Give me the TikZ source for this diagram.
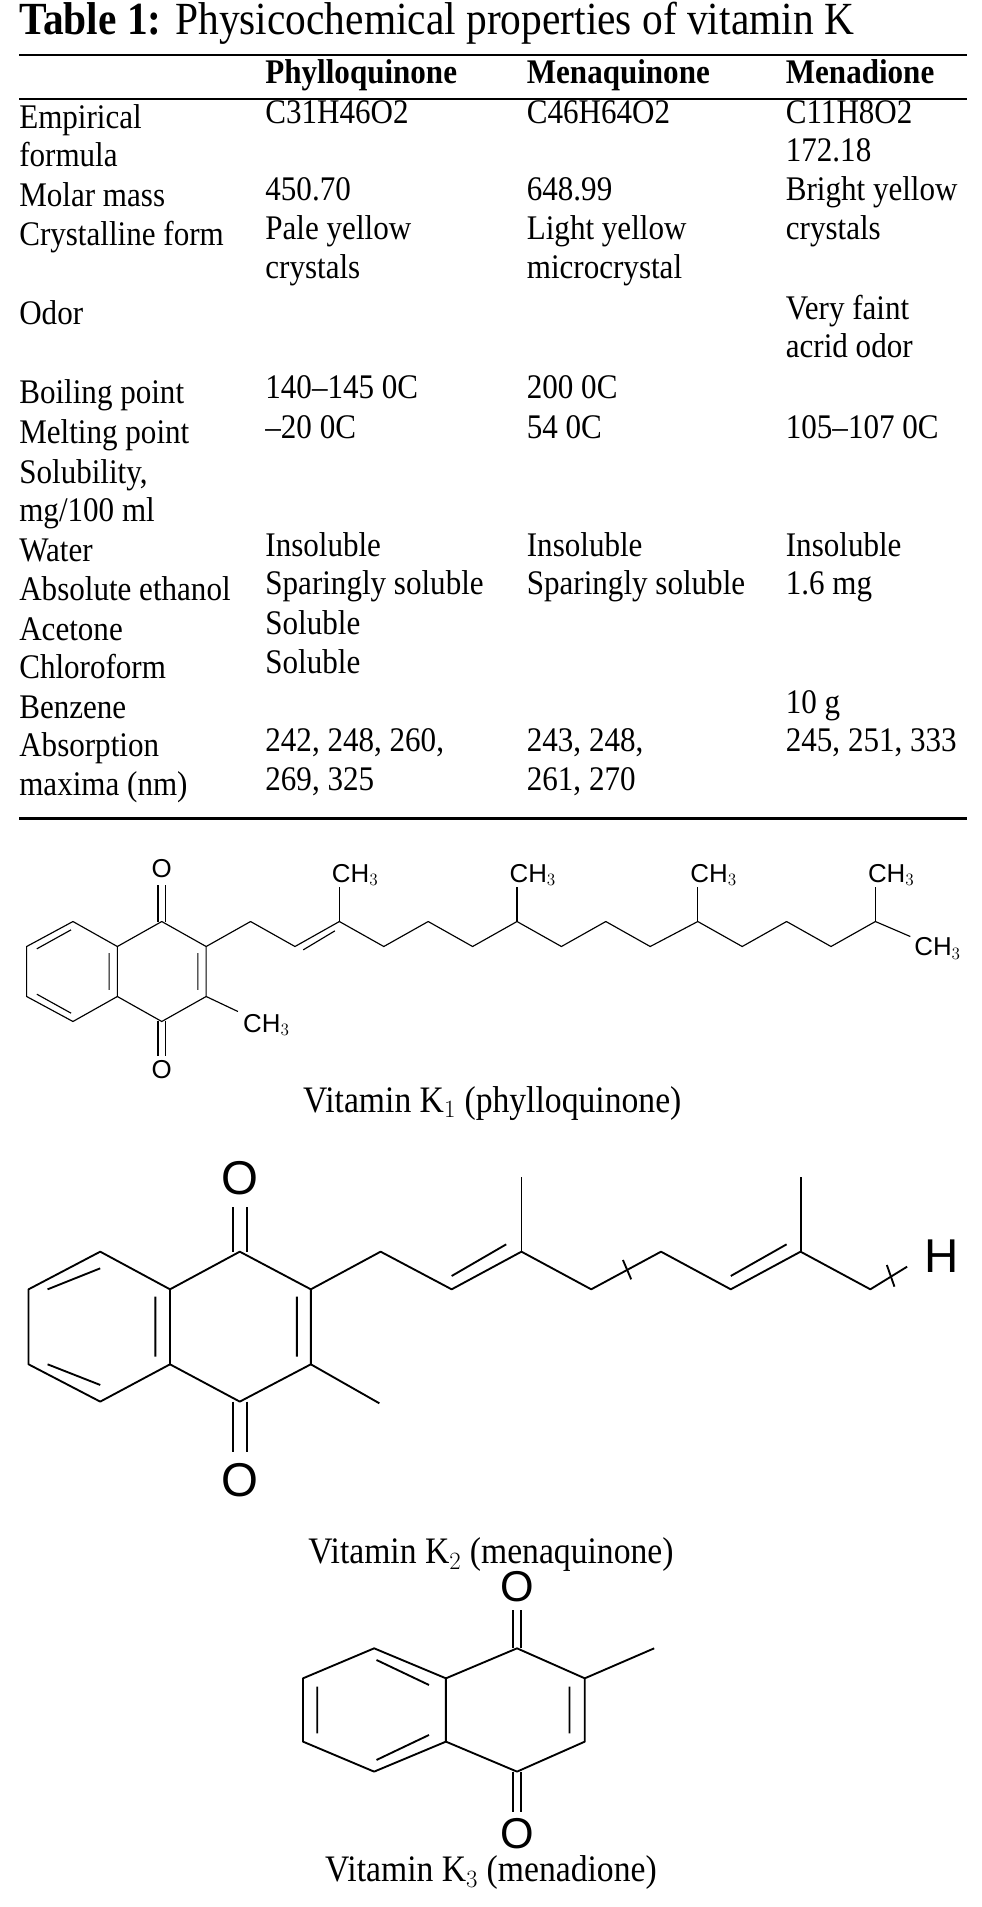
\documentclass[tikz,border=0pt]{standalone}
\usepackage{fontspec}
\setmainfont[FakeStretch=0.9]{Liberation Serif}
\setsansfont{Liberation Sans}
\begin{document}
\begin{tikzpicture}[x=0.03cm,y=-0.03cm,
  tx/.style={anchor=base west,inner sep=0pt,font=\fontsize{24}{28}\selectfont},
  hd/.style={anchor=base west,inner sep=0pt,font=\fontsize{24}{28}\selectfont\bfseries},
  captxt/.style={anchor=base,inner sep=0pt,font=\fontsize{26}{30}\selectfont},
  rule/.style={line width=1.8pt},
  bondA/.style={line width=0.8pt,line join=round},
  bondB/.style={line width=1.3pt,line join=round},
  lab1/.style={inner sep=0pt,font=\sffamily\fontsize{18}{18}\selectfont},
  lab2/.style={inner sep=0pt,font=\sffamily\fontsize{33}{33}\selectfont},
  lab3/.style={inner sep=0pt,font=\sffamily\fontsize{30}{30}\selectfont}]
\useasboundingbox (0,0) rectangle (800,1553.6);
% title
\node[anchor=base west,inner sep=0pt,font=\fontsize{32}{34}\selectfont] (title) at (15.5,28) {\textbf{Table 1:} Physicochemical properties of vitamin K};
\coordinate (r1a) at (15.5,44.8); \coordinate (r1b) at (788,44.8);
\coordinate (r2a) at (15.5,80.6); \coordinate (r2b) at (788,80.6);
\coordinate (r3a) at (15.5,667); \coordinate (r3b) at (788,667);
\draw[rule] (r1a) -- (r1b);
\draw[rule] (r2a) -- (r2b);
\draw[rule] (r3a) -- (r3b);
% header
\node[hd] (h1) at (216,68) {Phylloquinone};
\node[hd] (h2) at (429,68) {Menaquinone};
\node[hd] (h3) at (640,68) {Menadione};
% labels
\node[tx] (l1) at (15.5,104.5) {Empirical};
\node[tx] (l1b) at (15.5,135.8) {formula};
\node[tx] (l2) at (15.5,168.3) {Molar mass};
\node[tx] (l3) at (15.5,199.6) {Crystalline form};
\node[tx] (l4) at (15.5,264.7) {Odor};
\node[tx] (l5) at (15.5,328.5) {Boiling point};
\node[tx] (l6) at (15.5,361.2) {Melting point};
\node[tx] (l7) at (15.5,393.8) {Solubility,};
\node[tx] (l7b) at (15.5,425) {mg/100 ml};
\node[tx] (l8) at (15.5,457.7) {Water};
\node[tx] (l9) at (15.5,488.9) {Absolute ethanol};
\node[tx] (l10) at (15.5,521.5) {Acetone};
\node[tx] (l11) at (15.5,552.7) {Chloroform};
\node[tx] (l12) at (15.5,585.4) {Benzene};
\node[tx] (l13) at (15.5,616.6) {Absorption};
\node[tx] (l13b) at (15.5,647.8) {maxima (nm)};
% column 1
\node[tx] (a1) at (216,100.5) {C31H46O2};
\node[tx] (a2) at (216,163.7) {450.70};
\node[tx] (a3) at (216,195.5) {Pale yellow};
\node[tx] (a3b) at (216,226.7) {crystals};
\node[tx] (a5) at (216,324.3) {140–145 0C};
\node[tx] (a6) at (216,356.9) {–20 0C};
\node[tx] (a8) at (216,453.4) {Insoluble};
\node[tx] (a9) at (216,484.6) {Sparingly soluble};
\node[tx] (a10) at (216,517.3) {Soluble};
\node[tx] (a11) at (216,548.5) {Soluble};
\node[tx] (a13) at (216,612.3) {242, 248, 260,};
\node[tx] (a13b) at (216,643.6) {269, 325};
% column 2
\node[tx] (b1) at (429,100.5) {C46H64O2};
\node[tx] (b2) at (429,163.7) {648.99};
\node[tx] (b3) at (429,195.5) {Light yellow};
\node[tx] (b3b) at (429,226.7) {microcrystal};
\node[tx] (b5) at (429,324.3) {200 0C};
\node[tx] (b6) at (429,356.9) {54 0C};
\node[tx] (b8) at (429,453.4) {Insoluble};
\node[tx] (b9) at (429,484.6) {Sparingly soluble};
\node[tx] (b13) at (429,612.3) {243, 248,};
\node[tx] (b13b) at (429,643.6) {261, 270};
% column 3
\node[tx] (c1) at (640,100.5) {C11H8O2};
\node[tx] (c1b) at (640,131.7) {172.18};
\node[tx] (c2) at (640,163.7) {Bright yellow};
\node[tx] (c3) at (640,195.5) {crystals};
\node[tx] (c4) at (640,260.4) {Very faint};
\node[tx] (c4b) at (640,291.6) {acrid odor};
\node[tx] (c6) at (640,356.9) {105–107 0C};
\node[tx] (c8) at (640,453.4) {Insoluble};
\node[tx] (c9) at (640,484.6) {1.6 mg};
\node[tx] (c12) at (640,581.1) {10 g};
\node[tx] (c13) at (640,612.3) {245, 251, 333};

% ===== Vitamin K1 =====
\begin{scope}[shift={(0,672)},xscale=0.5168,yscale=0.2715]
\draw[bondA] (115,290) -- (185,365) -- (185,515) -- (115,590) -- (42,515) -- (42,365) -- cycle;
\draw[bondA] (185,365) -- (255,290) -- (325,365) -- (325,515) -- (255,590) -- (185,515);
\draw[bondA] (58,372) -- (112,315) (58,508) -- (112,565) (172,385) -- (172,495) (312,385) -- (312,495);
\draw[bondA] (249,290) -- (249,180) (261,290) -- (261,180);
\draw[bondA] (249,590) -- (249,695) (261,590) -- (261,695);
\node[lab1] (o1t) at (255,130) {O};
\node[lab1] (o1b) at (255,735) {O};
\draw[bondA] (325,515) -- (375,560);
\node[lab1] (m1) at (420,600) {CH$_3$};
\draw[bondA] (325,365) -- (395,290) -- (465,365) -- (535,290) -- (605,365) -- (675,290) -- (745,365) -- (815,290) -- (885,365) -- (955,290) -- (1025,365) -- (1100,290) -- (1170,365) -- (1240,290) -- (1310,365) -- (1380,290) -- (1435,335);
\draw[bondA] (478,375) -- (528,318);
\draw[bondA] (535,290) -- (535,185) (815,290) -- (815,185) (1100,290) -- (1100,185) (1380,290) -- (1380,185);
\node[lab1] (k1a) at (560,150) {CH$_3$};
\node[lab1] (k1b) at (840,150) {CH$_3$};
\node[lab1] (k1c) at (1125,150) {CH$_3$};
\node[lab1] (k1d) at (1405,150) {CH$_3$};
\node[lab1] (k1e) at (1478,370) {CH$_3$};
\end{scope}
\node[captxt] (cap1) at (401,906) {Vitamin K$_1$ (phylloquinone)};

% ===== Vitamin K2 =====
\begin{scope}[shift={(0,920.6)},xscale=0.5168,yscale=0.2715]
\draw[bondB] (158,365) -- (268,478) -- (268,703) -- (158,815) -- (45,703) -- (45,478) -- cycle;
\draw[bondB] (268,478) -- (378,365) -- (490,478) -- (490,703) -- (378,815) -- (268,703);
\draw[bondB] (75,478) -- (158,415) (75,703) -- (158,765) (245,500) -- (245,680) (468,500) -- (468,680);
\draw[bondB] (367,365) -- (367,230) (389,365) -- (389,230);
\draw[bondB] (367,815) -- (367,965) (389,815) -- (389,965);
\node[lab2] (o2t) at (378,145) {O};
\node[lab2] (o2b) at (378,1050) {O};
\draw[bondB] (490,703) -- (598,820);
\draw[bondB] (490,478) -- (600,365) -- (712,478) -- (822,365) -- (932,478) -- (1042,365) -- (1152,478) -- (1262,365) -- (1372,478) -- (1430,410);
\draw[bondB] (712,438) -- (798,343) (1152,438) -- (1240,343);
\draw[bondB] (822,365) -- (822,140) (1262,365) -- (1262,140);
\draw[bondB] (982,390) -- (995,448) (1398,405) -- (1410,470);
\node[lab2] (h2h) at (1485,380) {H};
\end{scope}
\node[captxt] (cap2) at (400,1274) {Vitamin K$_2$ (menaquinone)};

% ===== Vitamin K3 =====
\begin{scope}[shift={(228.1,1270.9)},xscale=0.2759,yscale=0.2715]
\draw[bondB] (278,265) -- (490,355) -- (490,545) -- (278,635) -- (68,545) -- (68,355) -- cycle;
\draw[bondB] (490,355) -- (700,265) -- (900,355) -- (900,545) -- (700,635) -- (490,545);
\draw[bondB] (285,300) -- (440,375) (110,380) -- (110,520) (285,600) -- (440,525) (855,380) -- (855,520);
\draw[bondB] (689,265) -- (689,150) (711,265) -- (711,150);
\draw[bondB] (689,635) -- (689,755) (711,635) -- (711,755);
\node[lab3] (o3t) at (700,80) {O};
\node[lab3] (o3b) at (700,820) {O};
\draw[bondB] (900,355) -- (1105,265);
\end{scope}
\node[captxt] (cap3) at (400,1533) {Vitamin K$_3$ (menadione)};
\end{tikzpicture}
\end{document}
